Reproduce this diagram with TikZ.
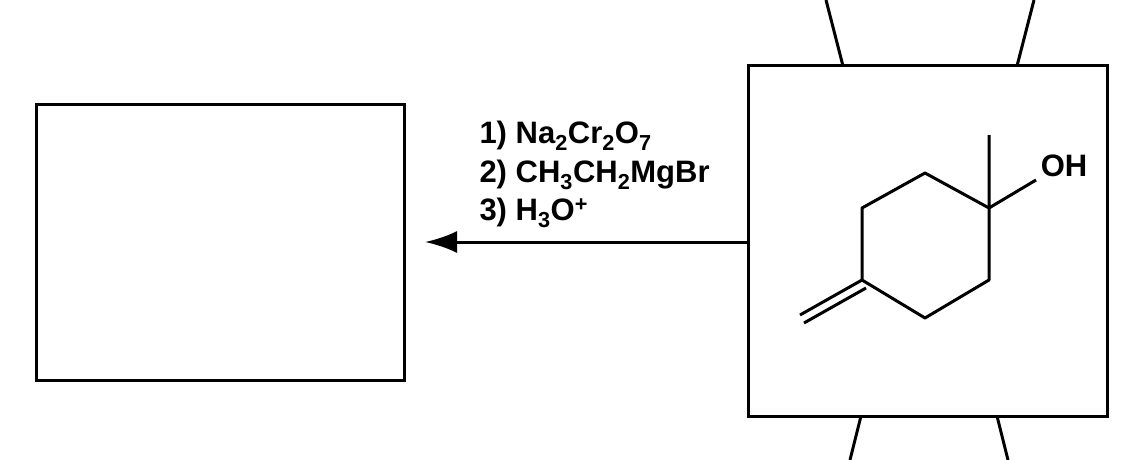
\documentclass[tikz,border=0pt]{standalone}
\usepackage{fontspec}
\setmainfont{Liberation Sans}
\usetikzlibrary{arrows.meta}
\begin{document}
\begin{tikzpicture}[x=1pt,y=-1pt,line width=3pt,
  lbl/.style={font=\fontsize{31}{34}\selectfont\bfseries,anchor=west,inner sep=0pt}]
\useasboundingbox (0,0) rectangle (1140,460);
\node[draw,minimum width=368pt,minimum height=276pt,inner sep=0pt] (prod) at (220,242) {};
\node[draw,minimum width=359pt,minimum height=350pt,inner sep=0pt] (sm) at (927.5,241) {};
\coordinate (t1a) at (826,0); \coordinate (t1b) at (843,66);
\coordinate (t2a) at (1034,0); \coordinate (t2b) at (1017,66);
\coordinate (b1a) at (861,416); \coordinate (b1b) at (850,460);
\coordinate (b2a) at (997,416); \coordinate (b2b) at (1008,460);
\draw (t1a)--(t1b) (t2a)--(t2b) (b1a)--(b1b) (b2a)--(b2b);
\coordinate (arrend) at (425,242);
\draw[-{Latex[length=32pt,width=22pt]}] (sm.west|-0,242) -- (arrend);
\node[lbl] (r1) at (478,136) {1) Na\textsubscript{2}Cr\textsubscript{2}O\textsubscript{7}};
\node[lbl] (r2) at (478,175) {2) CH\textsubscript{3}CH\textsubscript{2}MgBr};
\node[lbl] (r3) at (478,213) {3) H\textsubscript{3}O\textsuperscript{+}};
% molecule
\coordinate (a1) at (925,173); \coordinate (a2) at (862,208);
\coordinate (a3) at (862,280); \coordinate (a4) at (925,318);
\coordinate (a5) at (989,280); \coordinate (a6) at (989,208);
\coordinate (me) at (989,135); \coordinate (ob) at (1036,180);
\draw[line join=round] (a1)--(a2)--(a3)--(a4)--(a5)--(a6)--cycle;
\draw (a6)--(me) (a6)--(ob);
\node[font=\fontsize{31}{34}\selectfont\bfseries,inner sep=0pt] (oh) at (1064,166) {OH};
\coordinate (d1) at (800,315); \coordinate (d2) at (804,323);
\coordinate (a3b) at (866,288);
\draw (a3)--(d1) (a3b)--(d2);
\end{tikzpicture}
\end{document}
